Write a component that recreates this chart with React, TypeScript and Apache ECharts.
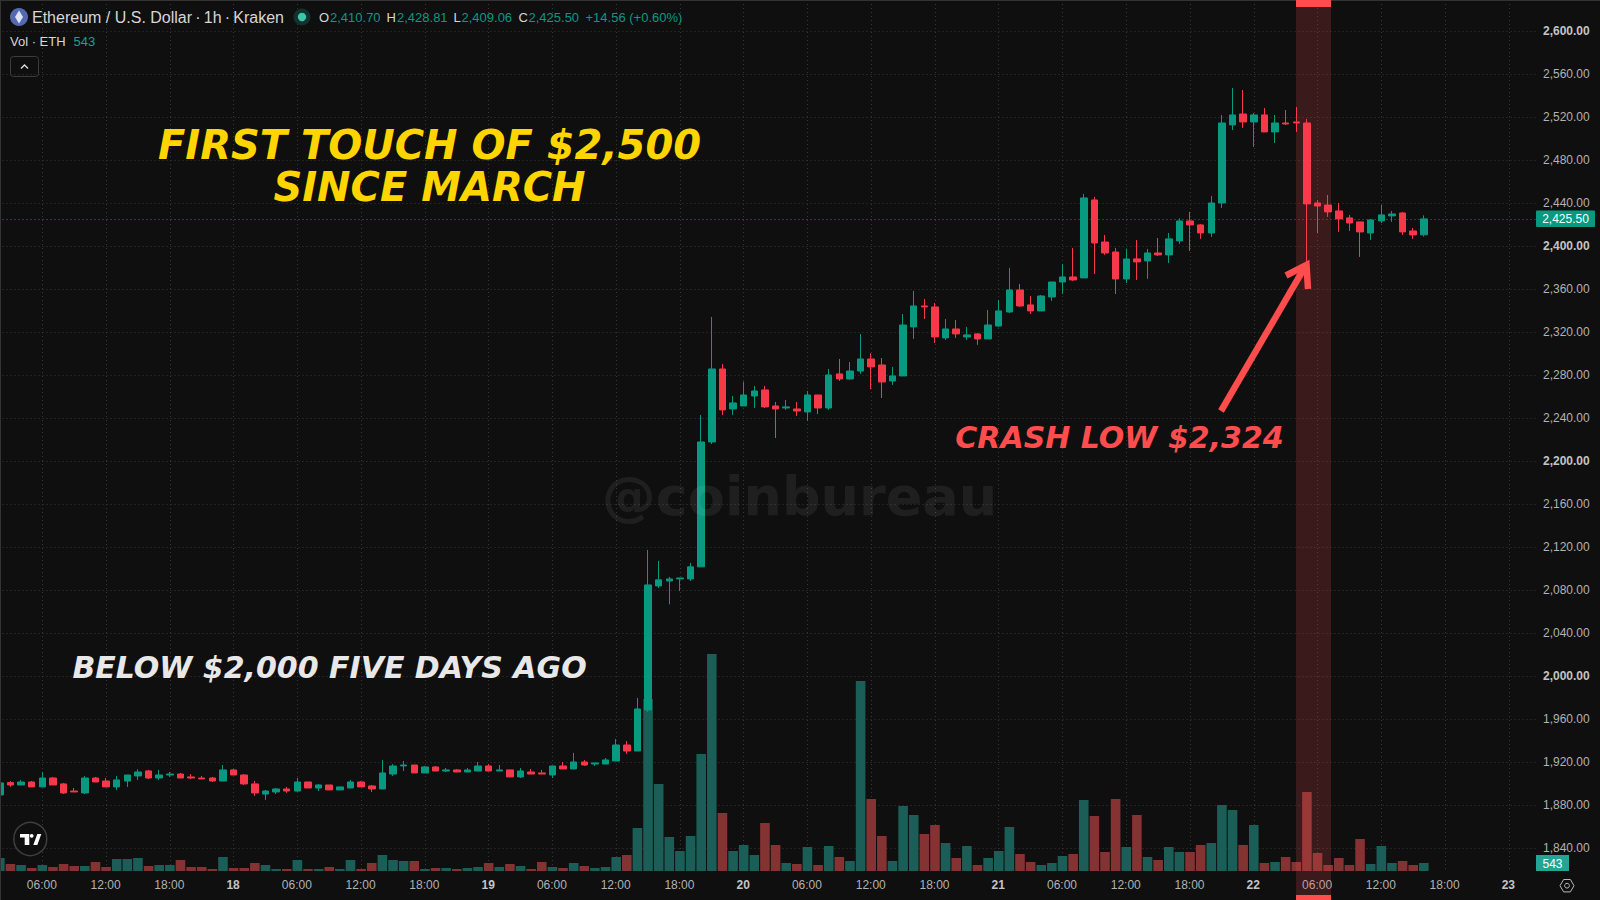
import React, { useEffect, useRef } from "react";
import * as echarts from "echarts";

const opens = [1889.6,1901.1,1898.9,1901.7,1897.1,1905.4,1899.9,1893.3,1891.5,1905.4,1902.6,1897.1,1902.6,1907.3,1912,1905.4,1908.2,1909.1,1906.4,1905.4,1905.4,1902.6,1912.9,1908.2,1899.9,1890.5,1892.4,1895.2,1893.3,1901.7,1896.1,1898.9,1894.3,1896.1,1901.7,1898,1895.2,1909.1,1916.6,1917.5,1910.1,1915.7,1911.9,1912.9,1911,1911.9,1916.6,1911.9,1912.9,1906.4,1911,1910.1,1908.2,1916.6,1913.8,1920.3,1918.4,1918.4,1921.2,1936.1,1930.5,1968.7,2084.1,2088.7,2090.6,2090.6,2101.8,2218,2285.9,2248.7,2251.5,2260.8,2266.4,2251.5,2249.6,2248.7,2245.9,2261.7,2249.6,2281.3,2276.6,2284,2295.2,2289.6,2274.7,2279.4,2325,2344.5,2343.6,2314.8,2323.1,2315.7,2318.5,2313.8,2325.9,2338.9,2359.4,2345.5,2339.9,2352.9,2366.8,2371.5,2370.6,2443.1,2404,2394.7,2369.6,2388.3,2386.4,2393.8,2392,2405,2423.6,2419.9,2412.4,2440.3,2512.9,2523.1,2515.7,2522.2,2506.4,2514.7,2515.7,2514.7,2440.3,2438.4,2432.9,2426.4,2422.7,2412.4,2423.6,2428.3,2431,2414.3,2410.7];
const closes = [1900.8,1898.9,1901.7,1897.1,1905.4,1898.9,1891.5,1892.4,1905.4,1901.7,1897.1,1903.6,1908.2,1911,1905.4,1908.2,1909.1,1905.4,1905.4,1904.5,1902.6,1912.9,1908.2,1899.9,1891.5,1893.3,1895.2,1893.3,1901.7,1896.1,1898.9,1894.3,1897.1,1901.7,1897.1,1895.2,1910.1,1916.6,1917.5,1910.1,1915.7,1911.9,1912.9,1911,1912.9,1916.6,1911.9,1912.9,1906.4,1911.9,1909.1,1909.1,1916.6,1913.8,1920.3,1917.5,1919.4,1922.2,1936.1,1930.5,1969.6,2085,2089.7,2090.6,2091.5,2101.8,2218,2285.9,2247.8,2254.3,2261.7,2265.4,2250.6,2248.7,2250.6,2246.8,2261.7,2249.6,2280.3,2276.6,2284,2295.2,2287.8,2273.8,2279.4,2326.8,2344.5,2343.6,2315.7,2323.1,2318.5,2317.6,2313.8,2326.8,2339.9,2359.4,2344.5,2339.9,2353.8,2366.8,2371.5,2368.7,2445,2403.1,2393.8,2369.6,2388.2,2385.5,2393.8,2392,2406.9,2423.6,2419.9,2412.4,2440.3,2514.7,2522.2,2515.7,2522.2,2506.4,2514.7,2513.8,2514.7,2439.4,2437.5,2432,2425.5,2421.7,2413.4,2424.5,2429.2,2430.1,2413.4,2410.6,2425.5];
const lows = [1889.6,1897.1,1898.9,1897.1,1897.1,1898.9,1890.5,1892.4,1890.5,1901.7,1897.1,1894.3,1897.1,1903.6,1904.5,1903.6,1906.4,1905.4,1904.5,1904.5,1901.7,1902.6,1908.2,1898.9,1888.7,1885,1890.5,1891.5,1892.4,1896.1,1893.3,1894.3,1894.3,1896.1,1897.1,1892.4,1895.2,1907.3,1911.9,1910.1,1910.1,1911.9,1911,1911,1911,1911.9,1911.9,1911.9,1906.4,1905.4,1909.1,1909.1,1905.4,1913.8,1913.8,1916.6,1916.6,1918.4,1921.2,1927.8,1930.5,1966.8,2082.2,2067,2079.4,2088.7,2101.8,2216.1,2243.1,2243.1,2251.5,2249.6,2249.6,2221.7,2247.8,2242.2,2237.5,2244,2247.8,2274.7,2275.7,2281.3,2267,2258.9,2271,2279.4,2313.8,2332.4,2310.1,2312.9,2314.8,2312.9,2308.3,2313.8,2325,2338,2343.6,2337,2339.9,2349.2,2355.7,2367.8,2370.6,2374.3,2392,2355.7,2365.9,2368.7,2369.7,2391,2384.5,2402.2,2395.7,2406.9,2408.7,2435.7,2508.2,2510.1,2492.4,2506.4,2496.1,2512.9,2506.4,2383.5,2412.1,2427.3,2413.4,2414.3,2390.1,2405.9,2421.7,2422.7,2410.6,2406.9,2409.06];
const highs = [1900.8,1902.6,1903.6,1902.6,1911,1906.4,1900.8,1896.1,1907.3,1906.4,1905.4,1907.3,1908.2,1913.5,1912.9,1912.9,1911,1910.1,1909.1,1907.3,1906.4,1917.5,1913.8,1909.1,1902.6,1894.3,1896.1,1897.1,1905.4,1901.7,1899.9,1898.9,1897.1,1903.6,1902.6,1898.9,1922.2,1918.4,1921.2,1917.5,1916.6,1916.6,1914.7,1913.8,1914.7,1920.3,1918.4,1917.5,1912.9,1914.7,1913.8,1912.9,1916.6,1920.3,1928.7,1922.2,1919.4,1924,1941.7,1939.8,1979.8,2117.6,2107.3,2092.5,2091.5,2105.5,2243.1,2334.3,2290.6,2260.8,2274.1,2270.1,2270.1,2255.2,2257.1,2255.2,2265.4,2261.7,2285.9,2295.2,2292.4,2318.5,2300.5,2296.1,2287.8,2337,2358.5,2351,2347.3,2332.4,2331.5,2325,2319.4,2340.8,2350.1,2379.9,2365,2353.8,2354.7,2366.8,2383.6,2398.5,2448.7,2445.9,2410.5,2398.5,2397.5,2405.9,2397.6,2407.8,2412.4,2426,2432,2420.8,2446.9,2522.2,2547.3,2545.4,2524,2528.7,2522.2,2526.8,2529.6,2518.5,2443.1,2447.8,2440.3,2429.2,2422.7,2425.5,2438.5,2432.9,2432,2417.1,2428.81];
const volumes = [882,475,407,204,407,271,475,339,339,611,271,814,814,882,339,407,407,746,271,271,136,950,204,204,543,407,136,136,746,136,136,271,136,746,136,543,1086,746,679,679,136,204,204,136,204,271,543,271,475,339,136,611,271,204,543,339,204,271,950,1086,2918,11672,5904,2307,1357,2375,7940,14726,3936,1357,1765,1086,3257,1765,543,475,1629,407,1697,950,679,12894,4886,2375,679,4411,3800,2511,3122,1900,882,1697,407,882,1357,2986,1154,611,407,543,1018,1154,4818,3732,1290,4886,1629,3800,950,746,1629,1290,1290,1765,1900,4479,4140,1765,3122,543,611,950,611,5361,1222,407,882,407,2172,475,1697,543,679,407,543];

const DAY_LABELS: Record<number, string> = { 22: "18", 46: "19", 70: "20", 94: "21", 118: "22", 142: "23" };
const TICK_HOURS = ["06:00", "12:00", "18:00"];
const CATEGORY_COUNT = 145;
const categories: string[] = [];
for (let i = 0; i < CATEGORY_COUNT; i++) {
  const hour = (i + 2) % 24;
  categories.push(DAY_LABELS[i] ?? (hour % 6 === 0 ? TICK_HOURS[hour / 6 - 1] : `${String(hour).padStart(2, "0")}:00`));
}
const lastClose = closes[closes.length - 1];

const BG = "#0f0f0f";
const UP = "#089981";
const DOWN = "#f7374a";
const GRID = "#383838";
const SANS = '"Liberation Sans", Arial, sans-serif';
const DEJA = '"DejaVu Sans", sans-serif';
const isTick = (i: number) => (i - 4) % 6 === 0 && i >= 4;

function txt(x: number, y: number, text: string, fontSize: number, fill: string, extra: any = {}) {
  return {
    type: "text",
    z: 110,
    silent: true,
    x,
    y,
    style: { text, fontSize, fill, fontFamily: SANS, textVerticalAlign: "middle", ...extra },
  };
}

export default function App() {
  const ref = useRef<HTMLDivElement>(null);
  useEffect(() => {
    const chart = echarts.init(ref.current!, undefined, { renderer: "svg" });
    const left = -5.5;
    const width = 1540.9;
    const candleData = opens.map((o, i) => [o, closes[i], lows[i], highs[i]]);
    const volData = volumes.map((v, i) => ({
      value: v,
      itemStyle: { color: closes[i] >= opens[i] ? "#1b5e57" : "#843232" },
    }));
    chart.setOption({
      animation: false,
      backgroundColor: BG,
      grid: [
        { left, top: 0, width, height: 871, outerBoundsMode: "none", containLabel: false },
        { left, top: -11.7, width, height: 903, outerBoundsMode: "none", containLabel: false },
      ],
      xAxis: [
        {
          type: "category",
          gridIndex: 0,
          data: categories,
          axisLine: { show: false },
          axisTick: { show: false },
          axisLabel: {
            interval: (i: number) => isTick(i),
            margin: 8,
            padding: [0, 1, 0, 0],
            color: "#b2b2b2",
            fontSize: 12,
            fontFamily: SANS,
            formatter: (v: string) => (/^\d+$/.test(v) ? `{d|${v}}` : v),
            rich: { d: { fontWeight: "bold", color: "#c4c4c4", fontSize: 12, fontFamily: SANS } },
          },
          splitLine: {
            show: true,
            alignWithLabel: true,
            interval: (i: number) => isTick(i),
            lineStyle: { color: GRID, type: [1, 3], width: 1 },
          },
        },
        {
          type: "category",
          gridIndex: 1,
          data: categories,
          show: false,
        },
      ],
      yAxis: [
        { type: "value", gridIndex: 0, min: 0, max: 59100, show: false, splitLine: { show: false } },
        {
          type: "value",
          gridIndex: 1,
          position: "right",
          min: 1800,
          max: 2640,
          interval: 40,
          axisLine: { show: false },
          axisTick: { show: false },
          axisLabel: {
            showMinLabel: false,
            showMaxLabel: false,
            margin: 7.6,
            padding: [0, 0, 1, 0],
            color: "#b2b2b2",
            fontSize: 12,
            fontFamily: SANS,
            formatter: (v: number) => {
              const s = v.toLocaleString("en-US", { minimumFractionDigits: 2, maximumFractionDigits: 2 });
              return v % 200 === 0 ? `{b|${s}}` : s;
            },
            rich: { b: { fontWeight: "bold", color: "#c4c4c4", fontSize: 12, fontFamily: SANS } },
          },
          splitLine: {
            show: true,
            showMinLine: false,
            showMaxLine: false,
            lineStyle: { color: GRID, type: [1, 3], width: 1 },
          },
        },
      ],
      series: [
        {
          type: "bar",
          xAxisIndex: 0,
          yAxisIndex: 0,
          data: volData,
          barWidth: 9.6,
          z: 1,
        },
        {
          type: "candlestick",
          xAxisIndex: 1,
          yAxisIndex: 1,
          data: candleData,
          barWidth: 7,
          z: 3,
          itemStyle: { color: UP, color0: DOWN, borderColor: UP, borderColor0: DOWN, borderWidth: 1 },
          markLine: {
            silent: true,
            symbol: "none",
            label: { show: false },
            lineStyle: { color: UP, type: [1, 3], width: 1, opacity: 0.9 },
            data: [{ yAxis: lastClose }],
          },
        },
      ],
      graphic: [
        // frame
        { type: "rect", z: 90, silent: true, shape: { x: 0, y: 0, width: 1600, height: 1 }, style: { fill: "#333333" } },
        { type: "rect", z: 90, silent: true, shape: { x: 0, y: 0, width: 1, height: 900 }, style: { fill: "#333333" } },
        // highlighted hour band
        { type: "rect", z: 100, silent: true, shape: { x: 1296, y: 0, width: 35, height: 900 }, style: { fill: "rgba(255,77,77,0.18)" } },
        { type: "rect", z: 101, silent: true, shape: { x: 1296, y: 0, width: 35, height: 7 }, style: { fill: "#ff4d4d" } },
        { type: "rect", z: 101, silent: true, shape: { x: 1296, y: 895, width: 35, height: 5 }, style: { fill: "#ff4d4d" } },
        // watermark
        txt(799.5, 496, "@coinbureau", 54, "rgba(255,255,255,0.07)", { fontFamily: DEJA, fontWeight: "bold", textAlign: "center" }),
        // annotations
        txt(429.5, 145, "FIRST TOUCH OF $2,500", 40, "#ffd500", { fontFamily: DEJA, fontWeight: "bold", fontStyle: "italic", textAlign: "center" }),
        txt(429.5, 187, "SINCE MARCH", 40, "#ffd500", { fontFamily: DEJA, fontWeight: "bold", fontStyle: "italic", textAlign: "center" }),
        txt(329.5, 667.5, "BELOW $2,000 FIVE DAYS AGO", 30, "#e8e8e8", { fontFamily: DEJA, fontWeight: "bold", fontStyle: "italic", textAlign: "center" }),
        txt(1119.5, 437, "CRASH LOW $2,324", 30, "#ff4d4d", { fontFamily: DEJA, fontWeight: "bold", fontStyle: "italic", textAlign: "center" }),
        // arrow
        { type: "line", z: 105, silent: true, shape: { x1: 1221, y1: 411, x2: 1306, y2: 265 }, style: { stroke: "#ff4d4d", lineWidth: 6.5 } },
        { type: "polyline", z: 105, silent: true, shape: { points: [[1286, 275.5], [1306.5, 265], [1308, 289]] }, style: { stroke: "#ff4d4d", lineWidth: 6.5, fill: "none" } },
        // header
        { type: "circle", z: 110, silent: true, shape: { cx: 19, cy: 17, r: 9 }, style: { fill: "#5469b0" } },
        { type: "polygon", z: 111, silent: true, shape: { points: [[19, 10.5], [23, 17], [19, 23.5], [15, 17]] }, style: { fill: "#dfe4f5" } },
        txt(32, 17, "Ethereum / U.S. Dollar\u2009·\u20091h\u2009·\u2009Kraken", 16, "#d6d6d6"),
        { type: "circle", z: 110, silent: true, shape: { cx: 302, cy: 17, r: 8.5 }, style: { fill: "#12322d" } },
        { type: "circle", z: 111, silent: true, shape: { cx: 302, cy: 17, r: 4.2 }, style: { fill: "#3cc7aa" } },
        txt(319, 17.5, "O", 13, "#d6d6d6"),
        txt(330, 17.5, "2,410.70", 13, UP),
        txt(386.5, 17.5, "H", 13, "#d6d6d6"),
        txt(397, 17.5, "2,428.81", 13, UP),
        txt(453.5, 17.5, "L", 13, "#d6d6d6"),
        txt(461.5, 17.5, "2,409.06", 13, UP),
        txt(518.5, 17.5, "C", 13, "#d6d6d6"),
        txt(528.5, 17.5, "2,425.50", 13, UP),
        txt(585.5, 17.5, "+14.56 (+0.60%)", 13, UP),
        txt(10, 41.5, "Vol · ETH", 13, "#d6d6d6"),
        txt(73.5, 41.5, "543", 13, "#1f9f8c"),
        { type: "rect", z: 110, silent: true, shape: { x: 10.5, y: 56.5, width: 28, height: 20, r: 3 }, style: { fill: "none", stroke: "#3c3c3c", lineWidth: 1 } },
        { type: "polyline", z: 110, silent: true, shape: { points: [[21, 68.5], [24.5, 65], [28, 68.5]] }, style: { fill: "none", stroke: "#e0e0e0", lineWidth: 1.3 } },
        // price tags
        { type: "rect", z: 110, silent: true, shape: { x: 1536, y: 210.5, width: 59, height: 16.5, r: 1 }, style: { fill: UP } },
        txt(1565.5, 219, "2,425.50", 12, "#ffffff", { textAlign: "center" }),
        { type: "rect", z: 110, silent: true, shape: { x: 1536, y: 855, width: 33, height: 16 }, style: { fill: "#22a595" } },
        txt(1552.5, 863.5, "543", 12, "#ffffff", { textAlign: "center" }),
        // settings icon
        { type: "polygon", z: 110, silent: true, shape: { points: [[1560, 885.7], [1563.6, 879.5], [1570.4, 879.5], [1574, 885.7], [1570.4, 891.9], [1563.6, 891.9]] }, style: { fill: "none", stroke: "#b8b8b8", lineWidth: 1 } },
        { type: "circle", z: 110, silent: true, shape: { cx: 1567, cy: 885.7, r: 2.4 }, style: { fill: "none", stroke: "#b8b8b8", lineWidth: 1 } },
        // chart-site logo
        { type: "circle", z: 110, silent: true, shape: { cx: 30.3, cy: 839, r: 16.5 }, style: { fill: "#0f0f0f", stroke: "#3f3f3f", lineWidth: 1.5 } },
        { type: "polygon", z: 111, silent: true, shape: { points: [[20, 834], [29.3, 834], [29.3, 845], [24.7, 845], [24.7, 837.5], [20, 837.5]] }, style: { fill: "#ffffff" } },
        { type: "circle", z: 111, silent: true, shape: { cx: 31.7, cy: 835.8, r: 1.9 }, style: { fill: "#ffffff" } },
        { type: "polygon", z: 111, silent: true, shape: { points: [[33.3, 845], [37.3, 845], [41.3, 834], [37.3, 834]] }, style: { fill: "#ffffff" } },
      ],
    });
    return () => chart.dispose();
  }, []);
  return (
    <div
      ref={ref}
      style={{ position: "fixed", left: 0, top: 0, width: 1600, height: 900, background: BG }}
    />
  );
}
